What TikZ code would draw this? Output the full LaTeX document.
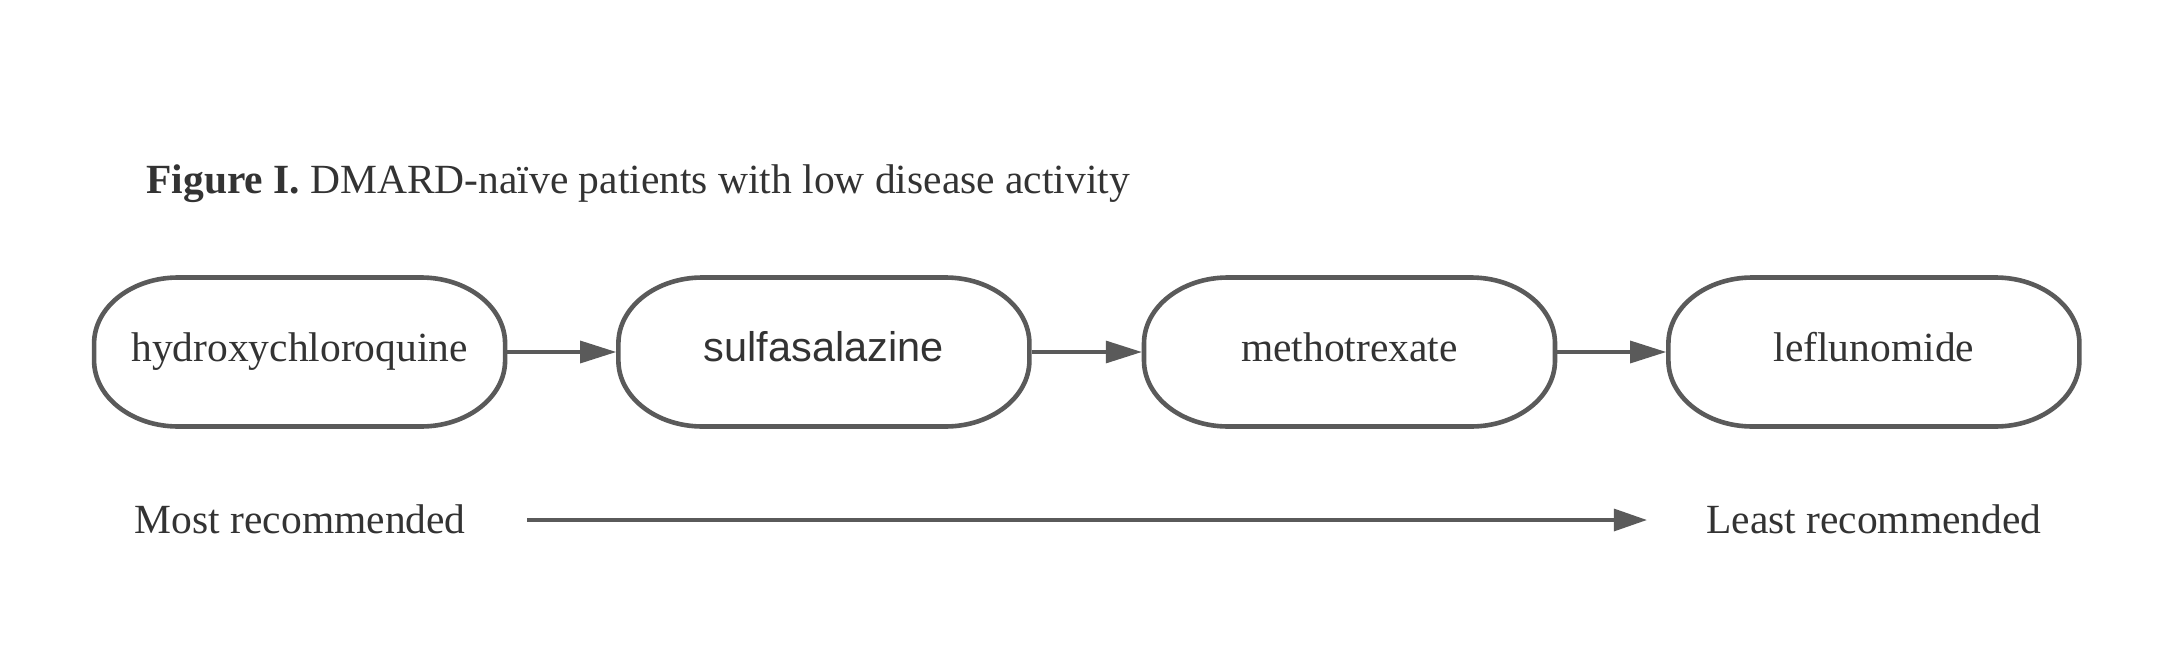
\documentclass[tikz,border=0pt]{standalone}
\usepackage{fontspec}
\setmainfont{Liberation Serif}
\newfontfamily\sansf{Liberation Sans}
\usetikzlibrary{arrows.meta}
\definecolor{lc}{HTML}{5A5A5A}
\definecolor{tc}{HTML}{333333}
\newcommand\drawpill[1]{%
  \draw[pillline] ([xshift=42pt]#1.north west) -- ([xshift=-42pt]#1.north east)
    arc[start angle=90, end angle=0, x radius=42pt, y radius=33pt]
    -- ([yshift=33pt]#1.south east)
    arc[start angle=0, end angle=-90, x radius=42pt, y radius=33pt]
    -- ([xshift=42pt]#1.south west)
    arc[start angle=270, end angle=180, x radius=42pt, y radius=33pt]
    -- ([yshift=-33pt]#1.north west)
    arc[start angle=180, end angle=90, x radius=42pt, y radius=33pt]
    -- cycle;}
\begin{document}
\begin{tikzpicture}[x=0.5pt,y=-0.5pt,
  pill/.style={minimum width=205.5pt, minimum height=74.5pt, inner sep=0pt, outer sep=0pt, text=tc, font=\fontsize{20.75}{24}\selectfont, text height=11pt, text depth=2pt},
  pillline/.style={draw=lc, line width=2.3pt, line join=round},
  conn/.style={draw=lc, line width=1.6pt, -{Triangle[length=18pt,width=11pt]}, shorten >=1.1pt, shorten <=1.1pt},
  lbl/.style={text=tc, font=\fontsize{20.75}{24}\selectfont, inner sep=0pt, text height=14pt, text depth=1pt}]
\path[fill=white] (0,0) rectangle (2175,653);
\node[anchor=base west, inner sep=0pt, text=tc, font=\fontsize{20.75}{24}\selectfont] (title) at (146,193) {\textbf{Figure I.} DMARD-naïve patients with low disease activity};
\node[pill] (n1) at (299.6,352) {hydroxychloroquine};
\node[pill, font=\sansf\fontsize{20.75}{24}\selectfont] (n2) at (823.9,352) {sulfasalazine};
\node[pill] (n3) at (1349.5,352) {methotrexate};
\node[pill] (n4) at (1873.9,352) {leflunomide};
\drawpill{n1}
\drawpill{n2}
\drawpill{n3}
\drawpill{n4}
\draw[conn] (n1) -- (n2);
\draw[conn] (n2) -- (n3);
\draw[conn] (n3) -- (n4);
\node[lbl, anchor=west] (most) at (134.5,520) {Most recommended};
\node[lbl, anchor=east] (least) at (2042,520) {Least recommended};
\draw[conn, -{Triangle[length=16.5pt,width=11pt]}, shorten <=30.5pt, shorten >=29.5pt] (most) -- (least);
\end{tikzpicture}
\end{document}
